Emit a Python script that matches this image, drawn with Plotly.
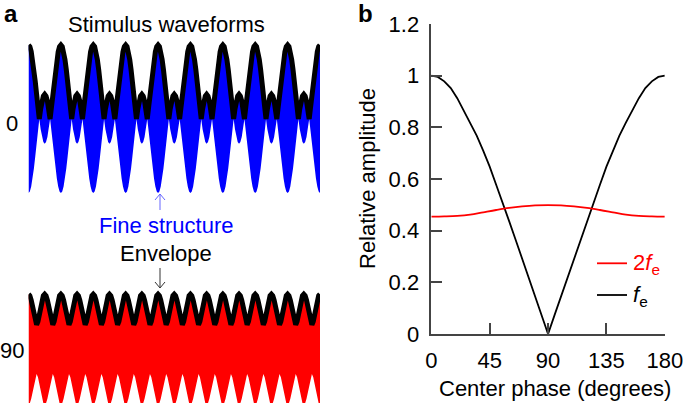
import numpy as np
import plotly.graph_objects as go

# ---------------- data ----------------
# Panel a: envelope of stimulus, sampled every 1/24 of an envelope cycle (relative units)
env_phase0_cycle = [3.00, 2.93, 2.73, 2.41, 2.00, 1.52, 1.00, 0.48, 0.00, 0.41, 0.73, 0.93,
                    1.00, 0.93, 0.73, 0.41, 0.00, 0.48, 1.00, 1.52, 2.00, 2.41, 2.73, 2.93]
env_phase90_half = [2.236, 2.175, 2.00, 1.732, 1.414, 1.126, 1.00, 1.126, 1.414, 1.732, 2.00, 2.175]
n_cycles = 9
wave_labels = ["0", "90"]

# Panel b: relative amplitude vs center phase
phase_fe = [0, 5, 10, 15, 20, 25, 30, 35, 40, 45, 50, 55, 60, 65, 70, 75, 80, 85, 90,
            95, 100, 105, 110, 115, 120, 125, 130, 135, 140, 145, 150, 155, 160, 165, 170, 175, 180]
amp_fe = [1.000, 0.995, 0.978, 0.952, 0.913, 0.865, 0.818, 0.768, 0.710, 0.648, 0.578, 0.510,
          0.437, 0.365, 0.293, 0.220, 0.146, 0.073, 0.000,
          0.073, 0.146, 0.220, 0.293, 0.365, 0.437, 0.510, 0.578, 0.648, 0.710, 0.768, 0.818,
          0.865, 0.913, 0.952, 0.978, 0.995, 1.000]
phase_2fe = [0, 10, 20, 30, 40, 50, 60, 70, 80, 90, 100, 110, 120, 130, 140, 150, 160, 170, 180]
amp_2fe = [0.454, 0.455, 0.457, 0.462, 0.471, 0.480, 0.488, 0.494, 0.498, 0.499,
           0.498, 0.494, 0.488, 0.480, 0.471, 0.462, 0.457, 0.455, 0.454]
x_ticks = [0, 45, 90, 135, 180]
y_ticks = [0, 0.2, 0.4, 0.6, 0.8, 1.0, 1.2]
y_ticktext = ["0", "0.2", "0.4", "0.6", "0.8", "1", "1.2"]

# ---------------- layout helpers ----------------
W, H = 685, 403
FONT = "Liberation Sans, Arial, Helvetica, sans-serif"
def px(x):
    return x / W
def py(y):
    return 1 - y / H

BLUE = "#0000FF"
RED = "#FF0000"

fig = go.Figure()

# ---------------- panel a ----------------
n_pts = n_cycles * 24
xa = np.arange(n_pts + 1) / 24.0
env0 = np.append(np.tile(env_phase0_cycle, n_cycles), env_phase0_cycle[0])
env90 = np.append(np.tile(env_phase90_half, n_cycles * 2), env_phase90_half[0])

centers = [0.0, -9.33]
for env, c, col in [(env0, centers[0], BLUE), (env90, centers[1], RED)]:
    fig.add_trace(go.Scatter(x=xa, y=c - env, mode="lines", line=dict(width=0, color=col),
                             showlegend=False, hoverinfo="skip", xaxis="x", yaxis="y"))
    fig.add_trace(go.Scatter(x=xa, y=c + env, mode="lines", line=dict(width=0, color=col),
                             fill="tonexty", fillcolor=col,
                             showlegend=False, hoverinfo="skip", xaxis="x", yaxis="y"))
    fig.add_trace(go.Scatter(x=xa, y=c + env, mode="lines", line=dict(width=5, color="black"),
                             showlegend=False, hoverinfo="skip", xaxis="x", yaxis="y"))

# ---------------- panel b ----------------
fig.add_trace(go.Scatter(x=phase_fe, y=amp_fe, mode="lines", line=dict(color="black", width=1.8),
                         showlegend=False, xaxis="x2", yaxis="y2"))
fig.add_trace(go.Scatter(x=phase_2fe, y=amp_2fe, mode="lines", line=dict(color=RED, width=1.8, shape="spline"),
                         showlegend=False, xaxis="x2", yaxis="y2"))

axcol = "#444444"
fig.update_layout(
    width=W, height=H, autosize=False,
    margin=dict(l=0, r=0, t=0, b=0, pad=0, autoexpand=False),
    paper_bgcolor="white", plot_bgcolor="white",
    font=dict(family=FONT, size=22, color="black"),
    xaxis=dict(domain=[px(28.5), px(320)], range=[0, n_cycles], visible=False, fixedrange=True),
    yaxis=dict(domain=[0, 1], range=[-11.5, 4.82], visible=False, fixedrange=True),
    xaxis2=dict(domain=[px(431.3), px(664.8)], range=[0, 180], anchor="y2",
                tickvals=x_ticks, ticks="inside", ticklen=11, tickwidth=1.5, tickcolor=axcol,
                showline=True, linecolor=axcol, linewidth=1.5, showgrid=False, zeroline=False,
                tickfont=dict(size=22), ticklabelstandoff=6, automargin=False),
    yaxis2=dict(domain=[py(334), py(24)], range=[0, 1.2], anchor="x2",
                tickvals=y_ticks, ticktext=y_ticktext, ticks="inside", ticklen=11, tickwidth=1.5,
                tickcolor=axcol, showline=True, linecolor=axcol, linewidth=1.5,
                showgrid=False, zeroline=False, tickfont=dict(size=22), ticklabelstandoff=6,
                automargin=False),
)

ann = []
def add_text(x, y, text, color="black", size=22, xanchor="center", angle=0, bold=False):
    ann.append(dict(x=px(x), y=py(y), xref="paper", yref="paper", text=("<b>%s</b>" % text) if bold else text,
                    showarrow=False, xanchor=xanchor, yanchor="middle", textangle=angle,
                    font=dict(family=FONT, size=size, color=color)))

add_text(11, 14, "a", bold=True, size=24)
add_text(365, 14, "b", bold=True, size=24)
add_text(166, 24, "Stimulus waveforms")
add_text(12, 123, wave_labels[0])
add_text(12, 350, wave_labels[1])
add_text(166, 225, "Fine structure", color=BLUE)
add_text(166, 253, "Envelope")
add_text(555, 388, "Center phase (degrees)")
add_text(367, 179, "Relative amplitude", angle=-90)
add_text(631, 264, "2<i>f</i><sub>e</sub>", color=RED, xanchor="left")
add_text(631, 296, "<i>f</i><sub>e</sub>", color="black", xanchor="left")
fig.update_layout(annotations=ann)

shapes = []
# legend lines
shapes.append(dict(type="line", xref="paper", yref="paper", x0=px(597), x1=px(627), y0=py(263.3), y1=py(263.3),
                   line=dict(color=RED, width=1.8)))
shapes.append(dict(type="line", xref="paper", yref="paper", x0=px(597), x1=px(627), y0=py(295), y1=py(295),
                   line=dict(color="black", width=1.8)))
# arrows
def arrow(xc, y_tail, y_tip, color):
    d = 6 if y_tip > y_tail else -6
    p = "M %f,%f L %f,%f M %f,%f L %f,%f L %f,%f" % (
        px(xc), py(y_tail), px(xc), py(y_tip),
        px(xc - 5), py(y_tip - d), px(xc), py(y_tip), px(xc + 5), py(y_tip - d))
    shapes.append(dict(type="path", xref="paper", yref="paper", path=p, line=dict(color=color, width=1)))
arrow(160, 210, 194, "#6666FF")
arrow(160, 268, 288, "#333333")
fig.update_layout(shapes=shapes)

fig.write_html("out.html", config={"displayModeBar": False},
               post_script="document.body.style.margin='0';document.body.style.overflow='hidden';")
